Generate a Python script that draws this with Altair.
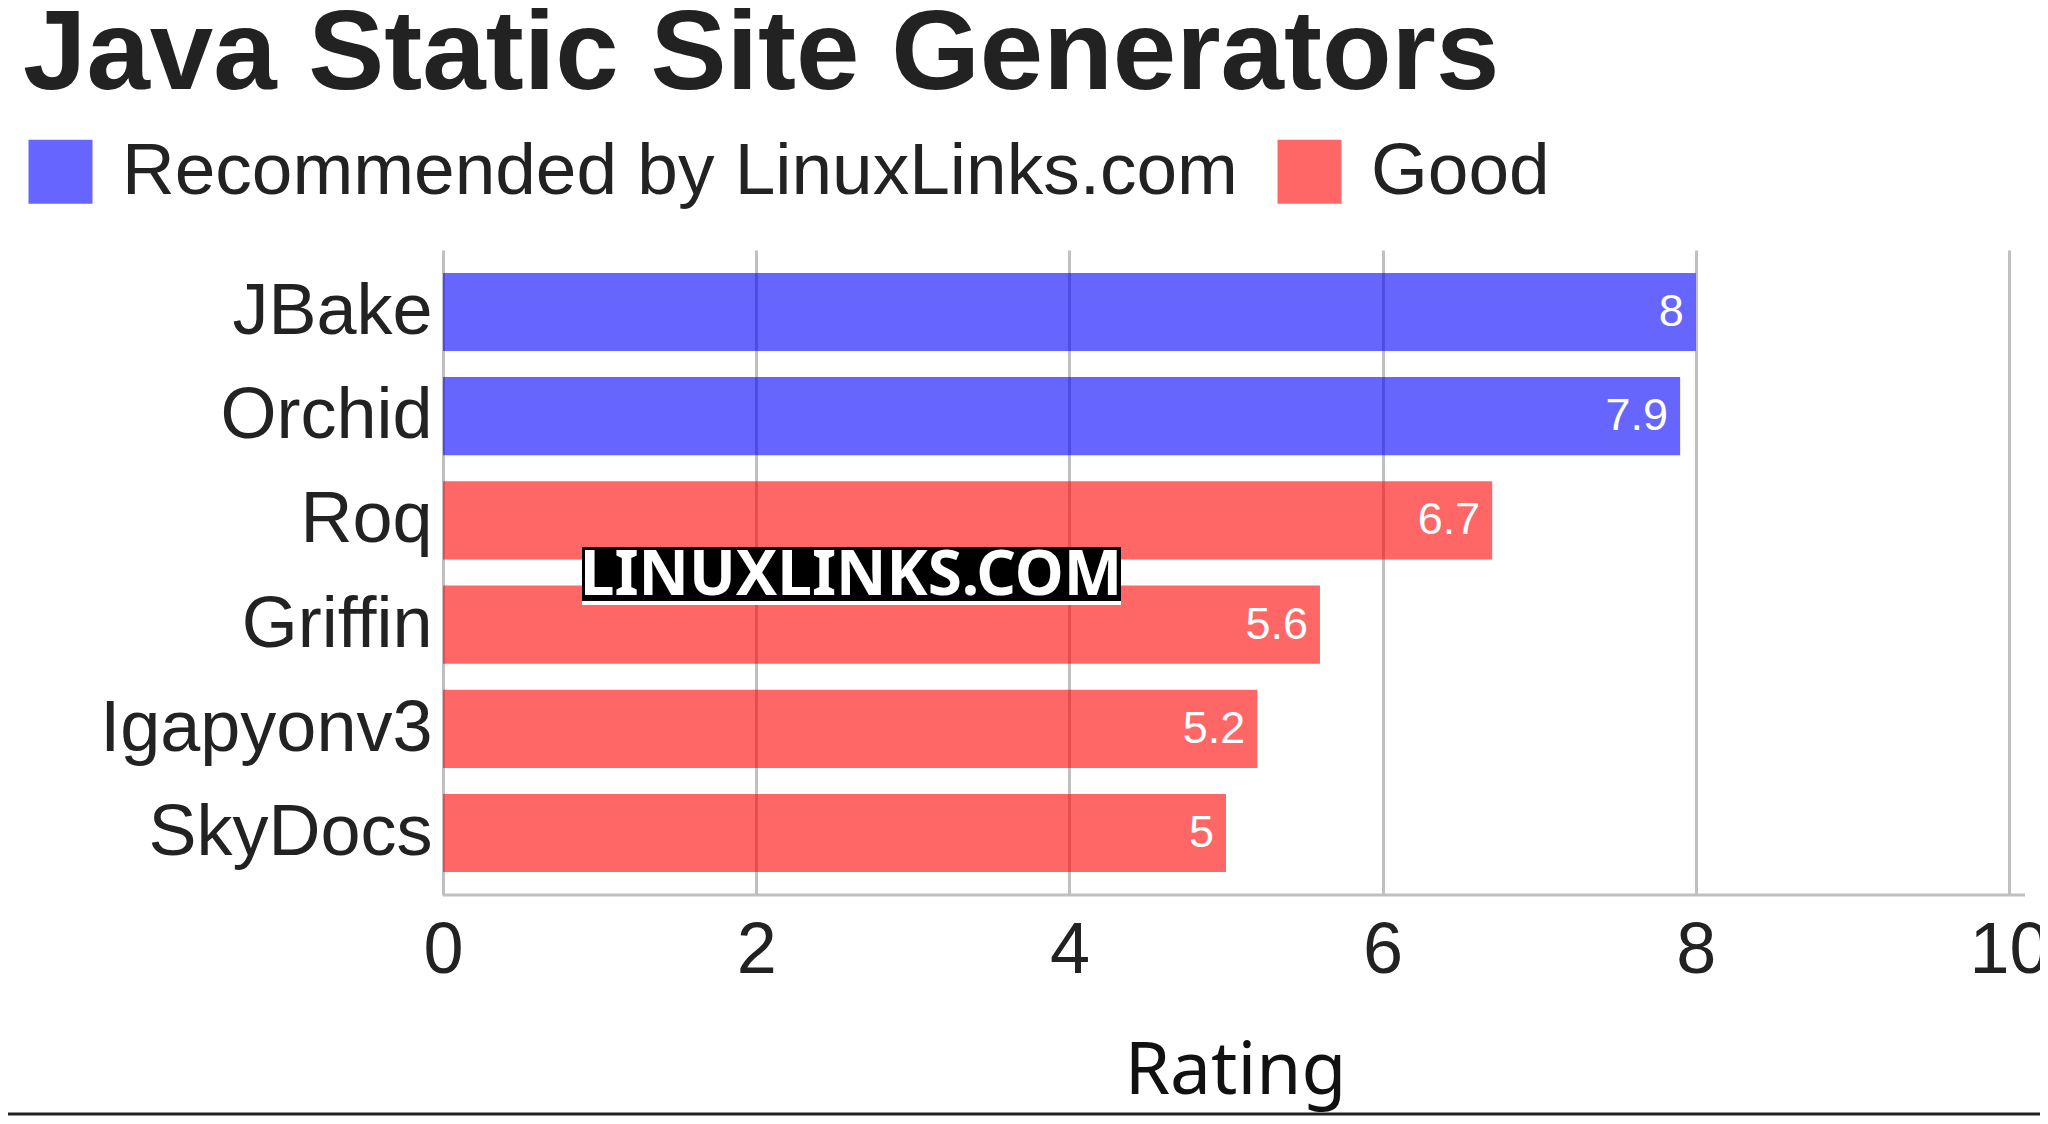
import altair as alt
import pandas as pd

# ---- data ----
names = ["JBake", "Orchid", "Roq", "Griffin", "Igapyonv3", "SkyDocs"]
ratings = [8, 7.9, 6.7, 5.6, 5.2, 5]
groups = ["Recommended by LinuxLinks.com", "Recommended by LinuxLinks.com",
          "Good", "Good", "Good", "Good"]
group_order = ["Recommended by LinuxLinks.com", "Good"]
group_colors = ["#0000ff", "#ff0000"]
x_ticks = [0, 2, 4, 6, 8, 10]
title_text = "Java Static Site Generators"
x_title = "Rating"
watermark = ["LINUXLINKS.COM"]

df = pd.DataFrame({"name": names, "rating": ratings, "group": groups})

W, H = 1566, 645
LABEL_FONT = "Liberation Sans"
GRID = "#c0c0c0"

base = alt.Chart(df)

bars = base.mark_bar(opacity=0.6).encode(
    y=alt.Y("name:N", sort=names,
            scale=alt.Scale(paddingInner=0.25, paddingOuter=0.22),
            axis=alt.Axis(title=None, ticks=False, domain=False,
                          labelFontSize=72, labelFont=LABEL_FONT,
                          labelColor="#222222", labelPadding=11,
                          labelLimit=600)),
    x=alt.X("rating:Q", scale=alt.Scale(domain=[0, 10], nice=False),
            axis=alt.Axis(values=x_ticks, format="d", grid=True,
                          gridColor=GRID, gridWidth=3, domain=False,
                          ticks=False, tickSize=0,
                          labelFontSize=72, labelFont=LABEL_FONT,
                          labelColor="#222222", labelPadding=20,
                          labelFlush=False,
                          title=x_title, titleFont="Noto Sans",
                          titleFontSize=73, titleFontWeight="normal",
                          titleColor="#111111", titlePadding=49,
                          titleX=792, titleAlign="center")),
    color=alt.Color("group:N",
                    scale=alt.Scale(domain=group_order, range=group_colors),
                    legend=alt.Legend(title=None, orient="none",
                                      direction="horizontal",
                                      legendX=-419, legendY=-115,
                                      symbolType="square", symbolSize=4096,
                                      symbolStrokeWidth=0,
                                      symbolOpacity=0.6,
                                      labelFontSize=73, labelFont=LABEL_FONT,
                                      labelColor="#222222", labelOffset=25,
                                      columnPadding=35, padding=0,
                                      labelLimit=2000)),
)

labels = base.mark_text(align="right", baseline="middle", dx=-12,
                        fontSize=45, font=LABEL_FONT, color="white").encode(
    y=alt.Y("name:N", sort=names),
    x=alt.X("rating:Q"),
    text=alt.Text("rating:Q"),
)

axis_line = alt.Chart(pd.DataFrame({"k": [0]})).mark_rule(
    color=GRID, strokeWidth=3).encode(
    x=alt.value(0), x2=alt.value(1582), y=alt.value(H))

wm_data = pd.DataFrame({"t": watermark})
wm_box = alt.Chart(wm_data).mark_rect(color="black").encode(
    x=alt.value(139), x2=alt.value(678), y=alt.value(297), y2=alt.value(351))
wm_line = alt.Chart(wm_data).mark_rect(color="white").encode(
    x=alt.value(139), x2=alt.value(678), y=alt.value(351), y2=alt.value(355))
wm_text = alt.Chart(wm_data).mark_text(
    align="center", baseline="alphabetic", font="Noto Sans",
    fontWeight="bold", fontSize=62, color="white").encode(
    text="t:N", x=alt.value(408), y=alt.value(345))

bottom_line = alt.Chart(pd.DataFrame({"k": [0]})).mark_rule(
    color="#222222", strokeWidth=3).encode(
    x=alt.value(-443), x2=alt.value(1605), y=alt.value(864))

chart = alt.layer(bars, labels, axis_line, wm_box, wm_line, wm_text,
                  bottom_line).properties(
    width=W, height=H,
    autosize="none",
    padding={"left": 435, "top": 242, "right": 31, "bottom": 221},
    title=alt.TitleParams(title_text, anchor="start", frame="group",
                          font=LABEL_FONT, fontSize=114, fontWeight="bold",
                          color="#222222", dx=-420, dy=68,
                          baseline="alphabetic", offset=0),
    background="white",
).configure_view(stroke=None)

chart.save("out.html", embed_options={"renderer": "svg", "actions": False})
